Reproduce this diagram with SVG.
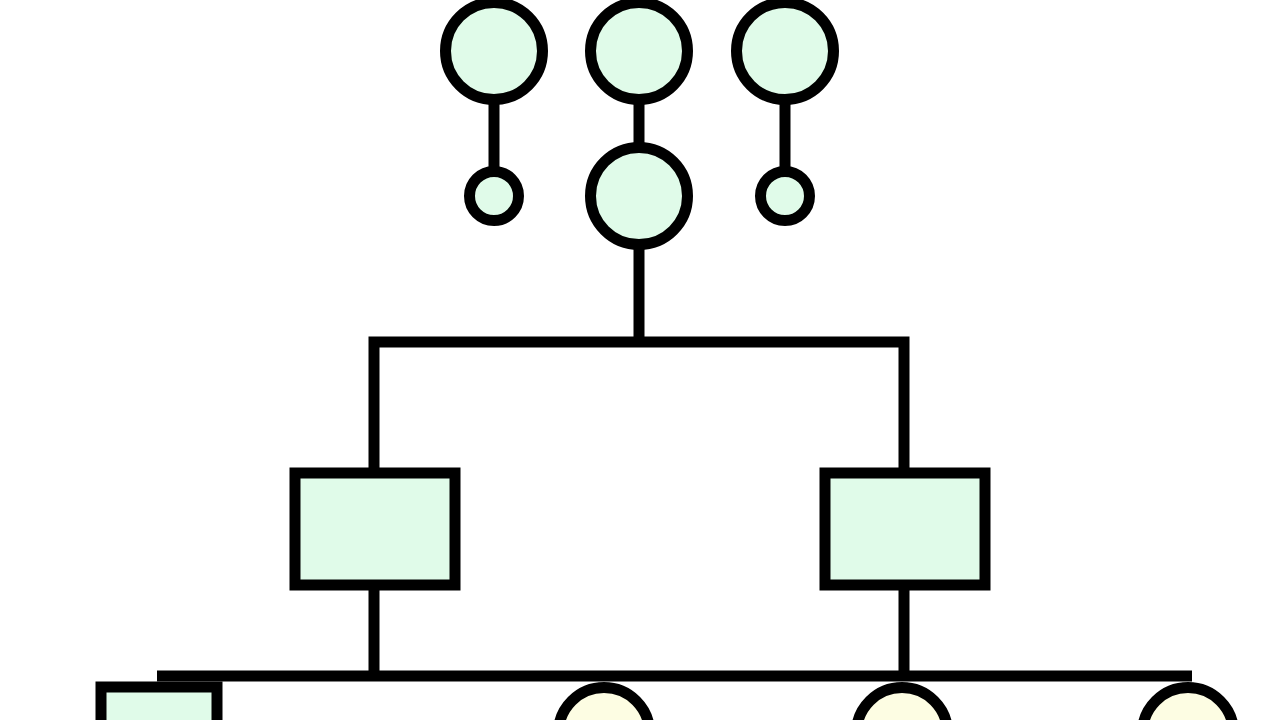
<svg xmlns="http://www.w3.org/2000/svg" width="1280" height="720" viewBox="0 0 1280 720">
<style>
.g{fill:#e0fbe9;stroke:#000;stroke-width:11}
.y{fill:#fdfde3;stroke:#000;stroke-width:11}
.c{fill:none;stroke:#000;stroke-width:11}
</style>
<rect width="1280" height="720" fill="#fff"/>
<g id="connectors">
<line class="c" x1="494" y1="100" x2="494" y2="170"/>
<line class="c" x1="639" y1="100" x2="639" y2="145"/>
<line class="c" x1="785" y1="100" x2="785" y2="170"/>
<line class="c" x1="639" y1="245" x2="639" y2="342"/>
<polyline class="c" points="374,473 374,342 904,342 904,473"/>
<line class="c" x1="374" y1="585" x2="374" y2="676"/>
<line class="c" x1="904" y1="585" x2="904" y2="676"/>
<line class="c" x1="157" y1="676" x2="1192" y2="676"/>
</g>
<g id="top1"><circle class="g" cx="494" cy="51" r="48.5"/></g>
<g id="top2"><circle class="g" cx="639" cy="51" r="48.5"/></g>
<g id="top3"><circle class="g" cx="785" cy="51" r="48.5"/></g>
<g id="small1"><circle class="g" cx="494" cy="196" r="24.5"/></g>
<g id="mid"><circle class="g" cx="639" cy="196" r="48.5"/></g>
<g id="small3"><circle class="g" cx="785" cy="196" r="24.5"/></g>
<g id="rectL"><rect class="g" x="295" y="473" width="160" height="112"/></g>
<g id="rectR"><rect class="g" x="825" y="473" width="160" height="112"/></g>
<g id="bottomRect"><rect class="g" x="101" y="687" width="116" height="60"/></g>
<g id="bottom1"><circle class="y" cx="604" cy="733" r="45.5"/></g>
<g id="bottom2"><circle class="y" cx="902" cy="733" r="45.5"/></g>
<g id="bottom3"><circle class="y" cx="1188" cy="733" r="45.5"/></g>
</svg>
